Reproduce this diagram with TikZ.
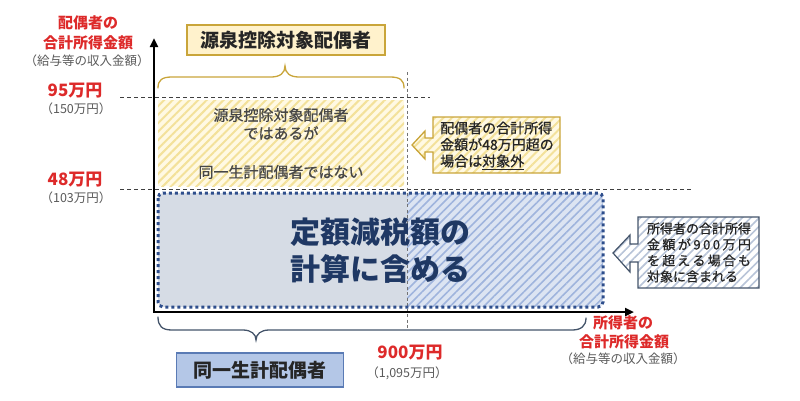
\documentclass[tikz,border=0pt]{standalone}
\usepackage{fontspec}
\setmainfont{Noto Sans CJK JP}
\newfontfamily\jpmed[FakeBold=0.8]{Noto Sans CJK JP}
\usetikzlibrary{patterns.meta,arrows.meta}
\definecolor{labred}{HTML}{DD2A2A}
\definecolor{graytxt}{HTML}{595959}
\definecolor{darktxt}{HTML}{262626}
\definecolor{ybase}{HTML}{FFF9E3}
\definecolor{ystripe}{HTML}{F3E19A}
\definecolor{ygold}{HTML}{C9A53A}
\definecolor{ytitle}{HTML}{FFF2CC}
\definecolor{bsolid}{HTML}{D6DCE5}
\definecolor{bbase}{HTML}{DCE4F2}
\definecolor{bstripe}{HTML}{9FB4DD}
\definecolor{navy}{HTML}{1F3864}
\definecolor{dotnavy}{HTML}{2E4E8C}
\definecolor{btitle}{HTML}{B4C7E7}
\definecolor{bborder}{HTML}{5A7BB5}
\definecolor{slate}{HTML}{44546A}
\definecolor{gstripe}{HTML}{B8C4D8}
\begin{document}
\begin{tikzpicture}[x=1pt,y=-1pt,
  redlab/.style={text=labred,font=\fontsize{15}{17}\selectfont\bfseries,inner sep=0pt},
  redval/.style={text=labred,font=\fontsize{17}{19}\selectfont\bfseries,inner sep=0pt},
  graylab/.style={text=graytxt,font=\fontsize{12.5}{14}\selectfont,inner sep=0pt},
  ytxt/.style={text=darktxt!85,font=\fontsize{15}{17}\selectfont\jpmed,inner sep=0pt},
  guide/.style={draw=black!75,line width=0.9pt,dash pattern=on 4pt off 3pt},
  vguide/.style={draw=black!55,line width=0.8pt,dash pattern=on 3pt off 2.5pt},
  ystripes/.style={preaction={fill=ybase},pattern={Lines[angle=45,distance=6pt,line width=2pt]},pattern color=ystripe},
  bstripes/.style={preaction={fill=bbase},pattern={Lines[angle=45,distance=6pt,line width=1.6pt]},pattern color=bstripe},
  gstripes/.style={preaction={fill=white},pattern={Lines[angle=45,distance=6pt,line width=1.6pt]},pattern color=gstripe},
  titlebox/.style={font=\fontsize{19}{21}\selectfont\bfseries,text=darktxt,line width=1.4pt,inner sep=0pt},
  bracepath/.style={line width=1.3pt,line cap=round}
]
\useasboundingbox (0,0) rectangle (800,400);

% yellow hatched region
\fill[ystripes] (158,100) rectangle (404,186);

% blue region fills
\begin{scope}
  \clip[rounded corners=5pt] (158,193) rectangle (603,307);
  \fill[bsolid] (158,193) rectangle (407,307);
  \fill[bstripes] (407,193) rectangle (603,307);
\end{scope}

% guide lines
\coordinate (g95a) at (120,97);
\coordinate (g95b) at (430,97);
\coordinate (g48a) at (120,189);
\coordinate (g48b) at (692,189);
\coordinate (v900a) at (407,72);
\coordinate (v900b) at (407,330);
\draw[guide] (g95a) -- (g95b);
\draw[guide] (g48a) -- (g48b);
\draw[vguide] (v900a) -- (v900b);

% axes
\coordinate (O) at (154,312);
\coordinate (ytip) at (154,38);
\coordinate (xtip) at (634,312);
\draw[line width=2.8pt,{Triangle[length=9pt,width=8pt]}-{Triangle[length=9pt,width=8pt]}] (ytip) -- (O) -- (xtip);

% dotted border of blue region
\draw[dotnavy,line width=3pt,dash pattern=on 3pt off 3pt,rounded corners=5pt] (158,193) rectangle (603,307);

% top brace
\draw[ygold,bracepath] (158,88) .. controls (158,80) and (162,77) .. (172,77) -- (271,77)
  .. controls (280,77) and (285,73) .. (285,66) .. controls (285,73) and (290,77) .. (299,77)
  -- (390,77) .. controls (400,77) and (404,80) .. (404,88);

% bottom brace
\draw[slate,bracepath] (158,317) .. controls (158,326) and (162,330) .. (172,330) -- (243,330)
  .. controls (251,330) and (256,334) .. (256,340) .. controls (256,334) and (261,330) .. (269,330)
  -- (572,330) .. controls (581,330) and (586,326) .. (586,318);

% title boxes
\node[titlebox,draw=ygold,fill=ytitle,minimum width=198pt,minimum height=30pt] (ttop) at (286,40) {源泉控除対象配偶者};
\node[titlebox,draw=bborder,fill=btitle,minimum width=167pt,minimum height=34pt] (tbot) at (260,370) {同一生計配偶者};

% yellow region text
\node[ytxt] (y1) at (281,115) {源泉控除対象配偶者};
\node[ytxt] (y2) at (281,133) {ではあるが};
\node[ytxt] (y3) at (281,172) {同一生計配偶者ではない};

% big text
\node[text=navy,font=\fontsize{30}{37}\selectfont\bfseries,align=center,inner sep=0pt] (big) at (380,251) {定額減税額の\\計算に含める};

% left labels
\node[redlab] (yl1) at (88,23) {配偶者の};
\node[redlab] (yl2) at (88,43) {合計所得金額};
\node[graylab] (yl3) at (87,61) {（給与等の収入金額）};
\node[redval] (v95) at (75,91) {95万円};
\node[graylab] (v150) at (76,109) {（150万円）};
\node[redval] (v48) at (75,180) {48万円};
\node[graylab] (v103) at (76,198) {（103万円）};

% bottom labels
\node[redval] (v900) at (410,353) {900万円};
\node[graylab] (v1095) at (407,373) {（1,095万円）};
\node[redlab] (xl1) at (623,323) {所得者の};
\node[redlab] (xl2) at (624,342) {合計所得金額};
\node[graylab] (xl3) at (623,359) {（給与等の収入金額）};

% callout 1
\draw[ygold,line width=1.3pt,ystripes] (433,117) -- (560,117) -- (560,173) -- (433,173) -- (433,152) -- (425,152) -- (425,159) -- (412,145) -- (425,131) -- (425,138) -- (433,138) -- cycle;
\node[text=darktxt,font=\fontsize{14}{16.5}\selectfont\jpmed,align=left,inner sep=0pt] (c1) at (497,145.5) {配偶者の合計所得\\金額が48万円超の\\場合は\underline{対象外}};

% callout 2
\draw[slate,line width=1.2pt,gstripes] (638,217) -- (759,217) -- (759,288) -- (638,288) -- (638,262) -- (630,262) -- (630,272) -- (613,253) -- (630,235) -- (630,244) -- (638,244) -- cycle;
\node[text=darktxt,font=\fontsize{13}{16}\selectfont\jpmed,align=left,inner sep=0pt] (c2) at (699,252.5) {所得者の合計所得\\\makebox[104pt][s]{金 額 が 9 0 0 万 円}\\\makebox[104pt][s]{を 超 え る 場 合 も}\\対象に含まれる};
\end{tikzpicture}
\end{document}
